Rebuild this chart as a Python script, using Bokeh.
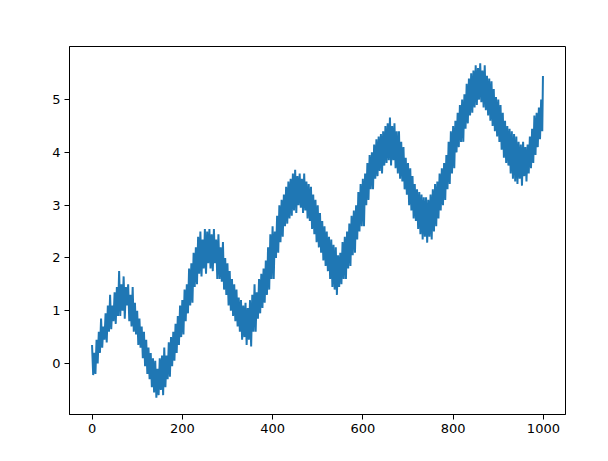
from bokeh.plotting import figure
from bokeh.models import Range1d, FixedTicker
from bokeh.embed import file_html
from bokeh.resources import INLINE

# readings of the noisy series, one every 2.5 steps (8 per block of 20), last one at x = 999
ys = [
    0.35, -0.22, 0.2, -0.2, 0.45, 0.0, 0.6, 0.2,
    0.85, 0.3, 0.7, 0.45, 0.95, 0.4, 1.1, 0.6,
    1.3, 0.65, 1.1, 0.8, 1.35, 0.75, 1.45, 0.9,
    1.75, 0.9, 1.5, 1.0, 1.65, 0.85, 1.45, 1.1,
    1.5, 0.8, 1.3, 0.7, 1.45, 0.6, 1.15, 0.55,
    1.0, 0.35, 0.85, 0.3, 0.7, 0.1, 0.6, -0.05,
    0.45, -0.2, 0.3, -0.3, 0.2, -0.45, 0.1, -0.55,
    0.05, -0.65, -0.1, -0.6, 0.1, -0.5, 0.15, -0.6,
    0.3, -0.45, 0.15, -0.3, 0.4, -0.25, 0.5, -0.05,
    0.6, 0.05, 0.75, 0.2, 0.9, 0.35, 1.1, 0.5,
    1.2, 0.55, 1.4, 0.8, 1.5, 0.95, 1.8, 1.1,
    1.9, 1.15, 2.1, 1.45, 2.2, 1.5, 2.4, 1.7,
    2.5, 1.65, 2.35, 1.8, 2.55, 1.7, 2.5, 1.9,
    2.55, 1.8, 2.45, 1.75, 2.55, 1.9, 2.35, 1.6,
    2.45, 1.6, 2.2, 1.55, 2.3, 1.4, 2.0, 1.3,
    1.9, 1.1, 1.75, 1.0, 1.6, 0.9, 1.5, 0.8,
    1.4, 0.7, 1.25, 0.6, 1.2, 0.45, 1.1, 0.5,
    1.15, 0.35, 1.05, 0.45, 1.2, 0.32, 1.3, 0.6,
    1.5, 0.6, 1.35, 0.85, 1.6, 0.95, 1.7, 1.05,
    1.8, 1.15, 1.95, 1.3, 2.2, 1.4, 2.45, 1.6,
    2.6, 1.6, 2.5, 2.0, 2.8, 2.1, 3.0, 2.3,
    3.1, 2.4, 3.2, 2.6, 3.35, 2.65, 3.45, 2.75,
    3.5, 2.8, 3.6, 2.9, 3.67, 2.85, 3.55, 3.0,
    3.6, 2.95, 3.5, 2.85, 3.6, 2.9, 3.45, 2.75,
    3.4, 2.7, 3.35, 2.55, 3.2, 2.45, 3.1, 2.3,
    3.0, 2.2, 2.85, 2.1, 2.7, 1.95, 2.6, 1.85,
    2.5, 1.75, 2.4, 1.6, 2.35, 1.45, 2.25, 1.4,
    2.2, 1.3, 2.05, 1.45, 2.1, 1.5, 2.3, 1.6,
    2.4, 1.6, 2.5, 1.8, 2.65, 1.85, 2.8, 2.05,
    2.9, 2.1, 3.0, 2.35, 3.25, 2.5, 3.4, 2.6,
    3.5, 2.6, 3.6, 3.0, 3.8, 3.1, 3.95, 3.3,
    4.0, 3.3, 4.15, 3.5, 4.25, 3.55, 4.3, 3.65,
    4.35, 3.6, 4.4, 3.75, 4.5, 3.8, 4.55, 3.85,
    4.66, 3.75, 4.5, 3.85, 4.55, 3.7, 4.4, 3.6,
    4.4, 3.5, 4.2, 3.45, 4.1, 3.3, 3.9, 3.2,
    3.8, 3.0, 3.7, 2.9, 3.55, 2.75, 3.4, 2.7,
    3.3, 2.55, 3.25, 2.45, 3.2, 2.35, 3.15, 2.4,
    3.15, 2.29, 3.1, 2.4, 3.2, 2.35, 3.3, 2.5,
    3.4, 2.6, 3.45, 2.75, 3.6, 2.9, 3.7, 3.0,
    3.8, 3.1, 3.95, 3.3, 4.2, 3.4, 4.4, 3.6,
    4.5, 3.7, 4.6, 4.0, 4.75, 4.1, 4.9, 4.2,
    5.0, 4.2, 5.1, 4.45, 5.3, 4.55, 5.4, 4.7,
    5.5, 4.75, 5.55, 4.85, 5.65, 4.9, 5.6, 5.0,
    5.69, 4.95, 5.55, 4.85, 5.65, 4.8, 5.45, 4.7,
    5.4, 4.6, 5.35, 4.5, 5.2, 4.4, 5.05, 4.3,
    5.0, 4.2, 4.9, 4.05, 4.75, 3.9, 4.6, 3.8,
    4.5, 3.75, 4.45, 3.6, 4.4, 3.5, 4.35, 3.45,
    4.3, 3.4, 4.2, 3.5, 4.15, 3.37, 4.2, 3.55,
    4.1, 3.45, 4.15, 3.6, 4.3, 3.7, 4.45, 3.8,
    4.7, 3.95, 4.75, 4.1, 4.85, 4.25, 5.0, 4.4,
    5.45,
]
xs = [i * 2.5 for i in range(len(ys) - 1)] + [999]

x_ticks = [0, 200, 400, 600, 800, 1000]
y_ticks = [0, 1, 2, 3, 4, 5]

p = figure(width=600, height=453, output_backend="svg", toolbar_location=None,
           x_range=Range1d(-49.95, 1048.95), y_range=Range1d(-0.967, 6.007),
           min_border_left=69, min_border_top=46, min_border_right=35, min_border_bottom=39)
p.frame_width = 496
p.frame_height = 368

p.line(xs, ys, line_color="#1f77b4", line_width=2, line_join="miter")

p.xgrid.visible = False
p.ygrid.visible = False
p.outline_line_color = "black"
p.outline_line_width = 1
p.outline_line_alpha = 1
p.background_fill_color = "white"
p.border_fill_color = "white"

p.xaxis.ticker = FixedTicker(ticks=x_ticks)
p.yaxis.ticker = FixedTicker(ticks=y_ticks)
for ax in (p.xaxis[0], p.yaxis[0]):
    ax.major_label_text_font = "DejaVu Sans"
    ax.major_label_text_font_size = "13px"
    ax.major_label_text_color = "black"
    ax.major_tick_out = 5
    ax.major_tick_in = 0
    ax.minor_tick_out = 0
    ax.minor_tick_in = 0
    ax.axis_line_color = "black"
    ax.major_tick_line_color = "black"
    ax.major_label_standoff = 4

open("out.html", "w").write(file_html(p, INLINE))
